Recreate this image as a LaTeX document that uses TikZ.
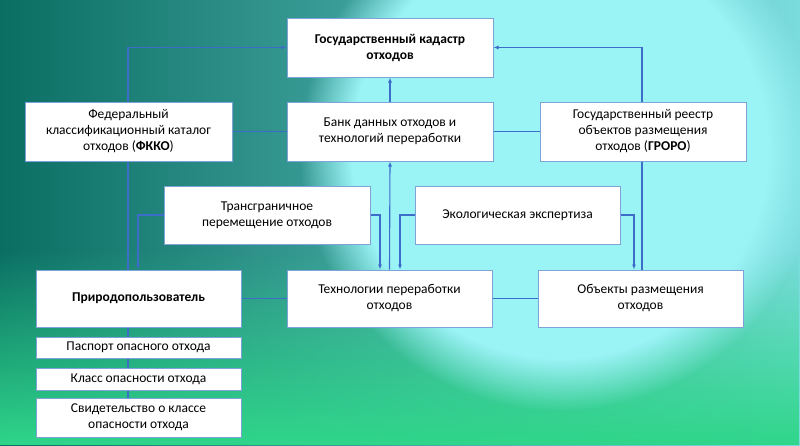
\documentclass[tikz,border=0pt]{standalone}
\usepackage{fontspec}
\setmainfont{Carlito}
\usetikzlibrary{arrows.meta,fadings}
\definecolor{linkblue}{HTML}{3C6DC8}
\definecolor{boxedge}{HTML}{7FA3D6}
\definecolor{darkteal}{HTML}{0B6E63}
\definecolor{lightcyan}{HTML}{9AF3F5}
\definecolor{brightgreen}{HTML}{2FD68A}
\begin{document}
\begin{tikzpicture}[x=1pt,y=-1pt,
	box/.style={draw=boxedge, line width=1pt, fill=white, align=center, inner sep=2pt, font=\fontsize{13.5}{16}\selectfont},
	link/.style={draw=linkblue, line width=1.1pt},
	arr/.style={link, -{Latex[length=5pt,width=4pt]}}]
	\useasboundingbox (0,0) rectangle (800,445);
	\begin{scope}
	\clip (0,0) rectangle (800,445);
	\shade[left color=darkteal, right color=lightcyan!80!teal] (0,0) rectangle (800,445);
	\fill[brightgreen, path fading=north] (0,250) rectangle (800,445);
	\fill[lightcyan, path fading=circle with fuzzy edge 20 percent] (560,150) circle (260);
	\end{scope}
	
	\node[box, minimum width=206pt, minimum height=59pt] (kadastr) at (390,47.5) {\textbf{Государственный кадастр}\\\textbf{отходов}};
	\node[box, minimum width=207pt, minimum height=59pt] (fkko) at (128.5,131.5) {Федеральный\\классификационный каталог\\отходов (\textbf{ФККО})};
	\node[box, minimum width=206pt, minimum height=59pt] (bank) at (390,131.5) {Банк данных отходов и\\технологий переработки};
	\node[box, minimum width=206pt, minimum height=59pt] (groro) at (643,131.5) {Государственный реестр\\объектов размещения\\отходов (\textbf{ГРОРО})};
	\node[box, minimum width=206pt, minimum height=58pt] (trans) at (267,215) {Трансграничное\\перемещение отходов};
	\node[box, minimum width=205pt, minimum height=58pt] (eco) at (517.5,215) {Экологическая экспертиза};
	\node[box, minimum width=205pt, minimum height=57pt] (priroda) at (138.5,298.5) {\textbf{Природопользователь}};
	\node[box, minimum width=205pt, minimum height=57pt] (tech) at (389.5,298.5) {Технологии переработки\\отходов};
	\node[box, minimum width=205pt, minimum height=57pt] (obj) at (640.5,298.5) {Объекты размещения\\отходов};
	\node[box, minimum width=205pt, minimum height=21pt] (pasport) at (138.5,347.5) {Паспорт опасного отхода};
	\node[box, minimum width=205pt, minimum height=22pt] (klass) at (138.5,379) {Класс опасности отхода};
	\node[box, minimum width=205pt, minimum height=39pt] (svid) at (138.5,417.5) {Свидетельство о классе\\опасности отхода};
	
	% связи
	\draw[arr] (fkko.north -| 128,0) |- (kadastr.west);
	\draw[arr] (groro.north -| 642,0) |- (kadastr.east);
	\draw[arr] (bank) -- (kadastr);
	\draw[arr] (tech.north) -- (bank.south);
	\draw[link] (fkko) -- (bank) -- (groro);
	\draw[link] (fkko.south -| 128,0) -- (priroda.north -| 128,0);
	\draw[link] (groro.south -| 642,0) -- (obj.north -| 642,0);
	\draw[arr] (trans.west) -| (priroda.north -| 138,0);
	\draw[arr] (trans.east) -| (tech.north -| 380,0);
	\draw[arr] (eco.west) -| (tech.north -| 400,0);
	\draw[arr] (eco.east) -| (obj.north -| 634,0);
	\draw[link] (priroda) -- (tech) -- (obj);
	\draw[link] (priroda.south -| 128,0) -- (pasport.north -| 128,0);
	\draw[link] (pasport.south -| 128,0) -- (klass.north -| 128,0);
	\draw[link] (klass.south -| 128,0) -- (svid.north -| 128,0);
\end{tikzpicture}
\end{document}
